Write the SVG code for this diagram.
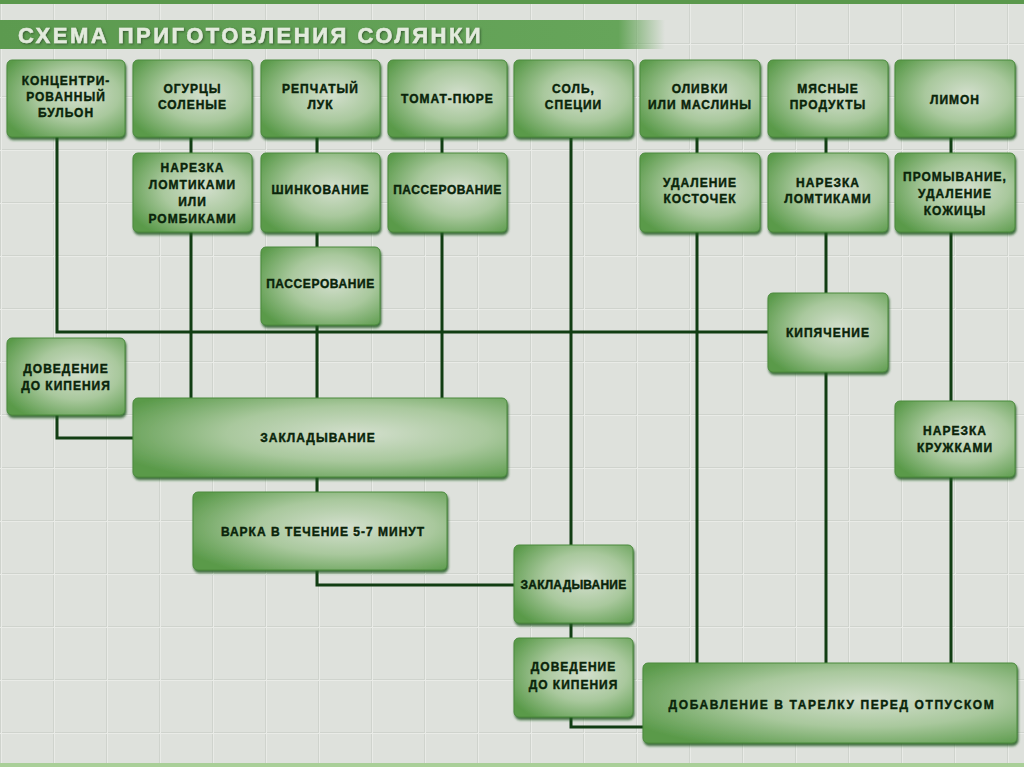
<svg xmlns="http://www.w3.org/2000/svg" width="1024" height="767" viewBox="0 0 1024 767">
<defs>
  <pattern id="grid" width="53" height="53" patternUnits="userSpaceOnUse" x="0" y="43">
    <rect width="53" height="53" fill="#dee1dc"/>
    <path d="M0 0.5H53M0.5 0V53" stroke="#cfd3cd" stroke-width="1"/>
    <path d="M0 1.5H53M1.5 0V53" stroke="#e9ebe7" stroke-width="1"/>
  </pattern>
  <linearGradient id="band" x1="0" y1="0" x2="665" y2="0" gradientUnits="userSpaceOnUse">
    <stop offset="0" stop-color="#5c9a4f"/>
    <stop offset="0.93" stop-color="#66a55a"/>
    <stop offset="1" stop-color="#66a55a" stop-opacity="0"/>
  </linearGradient>
  <radialGradient id="bx" cx="0.6" cy="0.45" r="0.7">
    <stop offset="0" stop-color="#d3dfcd"/>
    <stop offset="0.5" stop-color="#a9c89d"/>
    <stop offset="1" stop-color="#5a9a4a"/>
  </radialGradient>
  <filter id="sh" x="-10%" y="-10%" width="125%" height="135%">
    <feDropShadow dx="1" dy="2.5" stdDeviation="1.2" flood-color="#235a1b" flood-opacity="0.85"/>
  </filter>
  <filter id="tsh" x="-5%" y="-20%" width="110%" height="150%">
    <feDropShadow dx="1" dy="1" stdDeviation="0.8" flood-color="#2a4a25" flood-opacity="0.8"/>
  </filter>
</defs>
<style>
  .box rect { fill:url(#bx); stroke:#4a8a3d; stroke-width:1; filter:url(#sh); }
  .box text { font-family:"Liberation Sans",Arial,sans-serif; font-weight:bold; font-size:12px; fill:#0a240a; stroke:#0a240a; stroke-width:0.4px; text-anchor:middle; letter-spacing:1px; }
  .conn path { stroke:#113d13; stroke-width:3; fill:none; }
  .title { font-family:"Liberation Sans",Arial,sans-serif; font-weight:bold; font-size:22px; fill:#e3ebdd; stroke:#e3ebdd; stroke-width:0.5px; letter-spacing:2.5px; filter:url(#tsh); }
</style>

<rect width="1024" height="767" fill="url(#grid)"/>
<rect x="0" y="0" width="1024" height="4" fill="#5a984c"/>
<rect x="0" y="763" width="1024" height="4" fill="#a9cf98"/>
<rect x="0" y="20" width="665" height="29" fill="url(#band)"/>
<text class="title" x="18" y="43">СХЕМА ПРИГОТОВЛЕНИЯ СОЛЯНКИ</text>

<g id="connectors" class="conn">
  <path d="M57 137V332H768"/>
  <path d="M191 137V153"/>
  <path d="M191 232V398"/>
  <path d="M317 137V153"/>
  <path d="M317 232V247"/>
  <path d="M317 325V398"/>
  <path d="M442 137V153"/>
  <path d="M442 232V398"/>
  <path d="M571 138V545"/>
  <path d="M697 137V153"/>
  <path d="M697 232V663"/>
  <path d="M826 137V153"/>
  <path d="M826 232V293"/>
  <path d="M826 372V663"/>
  <path d="M951 137V153"/>
  <path d="M951 232V401"/>
  <path d="M951 477V663"/>
  <path d="M57 415V438H133"/>
  <path d="M317 477V492"/>
  <path d="M317 570V585H514"/>
  <path d="M571 623V638"/>
  <path d="M571 717V727H643"/>
</g>

<g id="n-bulyon" class="box"><rect x="7" y="60" width="118" height="77" rx="5"/>
  <text x="66" y="84.5">КОНЦЕНТРИ-</text><text x="66" y="100.5">РОВАННЫЙ</text><text x="66" y="117">БУЛЬОН</text></g>
<g id="n-ogurcy" class="box"><rect x="133" y="60" width="119" height="77" rx="5"/>
  <text x="192.5" y="92.5">ОГУРЦЫ</text><text x="192.5" y="108.5">СОЛЕНЫЕ</text></g>
<g id="n-luk" class="box"><rect x="261" y="60" width="119" height="77" rx="5"/>
  <text x="320.5" y="92.5">РЕПЧАТЫЙ</text><text x="320.5" y="108.5">ЛУК</text></g>
<g id="n-tomat" class="box"><rect x="388" y="60" width="119" height="77" rx="5"/>
  <text x="447.5" y="102.5">ТОМАТ-ПЮРЕ</text></g>
<g id="n-sol" class="box"><rect x="514" y="60" width="119" height="77" rx="5"/>
  <text x="573.5" y="92.5">СОЛЬ,</text><text x="573.5" y="108.5">СПЕЦИИ</text></g>
<g id="n-olivki" class="box"><rect x="640" y="60" width="120" height="77" rx="5"/>
  <text x="700" y="92.5">ОЛИВКИ</text><text x="700" y="108.5">ИЛИ МАСЛИНЫ</text></g>
<g id="n-myaso" class="box"><rect x="768" y="60" width="120" height="77" rx="5"/>
  <text x="828" y="92.5">МЯСНЫЕ</text><text x="828" y="108.5">ПРОДУКТЫ</text></g>
<g id="n-limon" class="box"><rect x="895" y="60" width="120" height="77" rx="5"/>
  <text x="955" y="103.5">ЛИМОН</text></g>

<g id="n-narezka1" class="box"><rect x="133" y="153" width="119" height="79" rx="5"/>
  <text x="192.5" y="171.5">НАРЕЗКА</text><text x="192.5" y="188.5">ЛОМТИКАМИ</text><text x="192.5" y="205.5">ИЛИ</text><text x="192.5" y="222.5">РОМБИКАМИ</text></g>
<g id="n-shinkovanie" class="box"><rect x="261" y="153" width="119" height="79" rx="5"/>
  <text x="320.5" y="193.5">ШИНКОВАНИЕ</text></g>
<g id="n-passer1" class="box"><rect x="388" y="153" width="119" height="79" rx="5"/>
  <text x="447.5" y="193.5" style="letter-spacing:0.6px">ПАССЕРОВАНИЕ</text></g>
<g id="n-udalenie" class="box"><rect x="640" y="153" width="120" height="79" rx="5"/>
  <text x="700" y="186.5">УДАЛЕНИЕ</text><text x="700" y="202.5">КОСТОЧЕК</text></g>
<g id="n-narezka2" class="box"><rect x="768" y="153" width="120" height="79" rx="5"/>
  <text x="828" y="186.5">НАРЕЗКА</text><text x="828" y="202.5">ЛОМТИКАМИ</text></g>
<g id="n-promyvanie" class="box"><rect x="895" y="153" width="120" height="79" rx="5"/>
  <text x="955" y="180.5">ПРОМЫВАНИЕ,</text><text x="955" y="197.5">УДАЛЕНИЕ</text><text x="955" y="214.5">КОЖИЦЫ</text></g>

<g id="n-passer2" class="box"><rect x="261" y="247" width="119" height="78" rx="5"/>
  <text x="320.5" y="287.5" style="letter-spacing:0.6px">ПАССЕРОВАНИЕ</text></g>
<g id="n-kipyachenie" class="box"><rect x="768" y="293" width="120" height="79" rx="5"/>
  <text x="828" y="336.5">КИПЯЧЕНИЕ</text></g>
<g id="n-dovedenie1" class="box"><rect x="7" y="338" width="118" height="77" rx="5"/>
  <text x="66" y="372.5">ДОВЕДЕНИЕ</text><text x="66" y="389.5">ДО КИПЕНИЯ</text></g>
<g id="n-zakladyvanie1" class="box"><rect x="133" y="398" width="374" height="79" rx="5"/>
  <text x="318" y="441.5">ЗАКЛАДЫВАНИЕ</text></g>
<g id="n-narezka3" class="box"><rect x="895" y="401" width="120" height="76" rx="5"/>
  <text x="955" y="434.5">НАРЕЗКА</text><text x="955" y="451.5">КРУЖКАМИ</text></g>
<g id="n-varka" class="box"><rect x="193" y="492" width="254" height="78" rx="5"/>
  <text x="323" y="535.5">ВАРКА В ТЕЧЕНИЕ 5-7 МИНУТ</text></g>
<g id="n-zakladyvanie2" class="box"><rect x="514" y="545" width="119" height="78" rx="5"/>
  <text x="573.5" y="588.5" style="letter-spacing:0.2px">ЗАКЛАДЫВАНИЕ</text></g>
<g id="n-dovedenie2" class="box"><rect x="514" y="638" width="119" height="79" rx="5"/>
  <text x="573.5" y="670.5">ДОВЕДЕНИЕ</text><text x="573.5" y="688.5">ДО КИПЕНИЯ</text></g>
<g id="n-dobavlenie" class="box"><rect x="643" y="663" width="374" height="80" rx="5"/>
  <text x="832" y="708.5" style="letter-spacing:1.6px">ДОБАВЛЕНИЕ В ТАРЕЛКУ ПЕРЕД ОТПУСКОМ</text></g>
</svg>
